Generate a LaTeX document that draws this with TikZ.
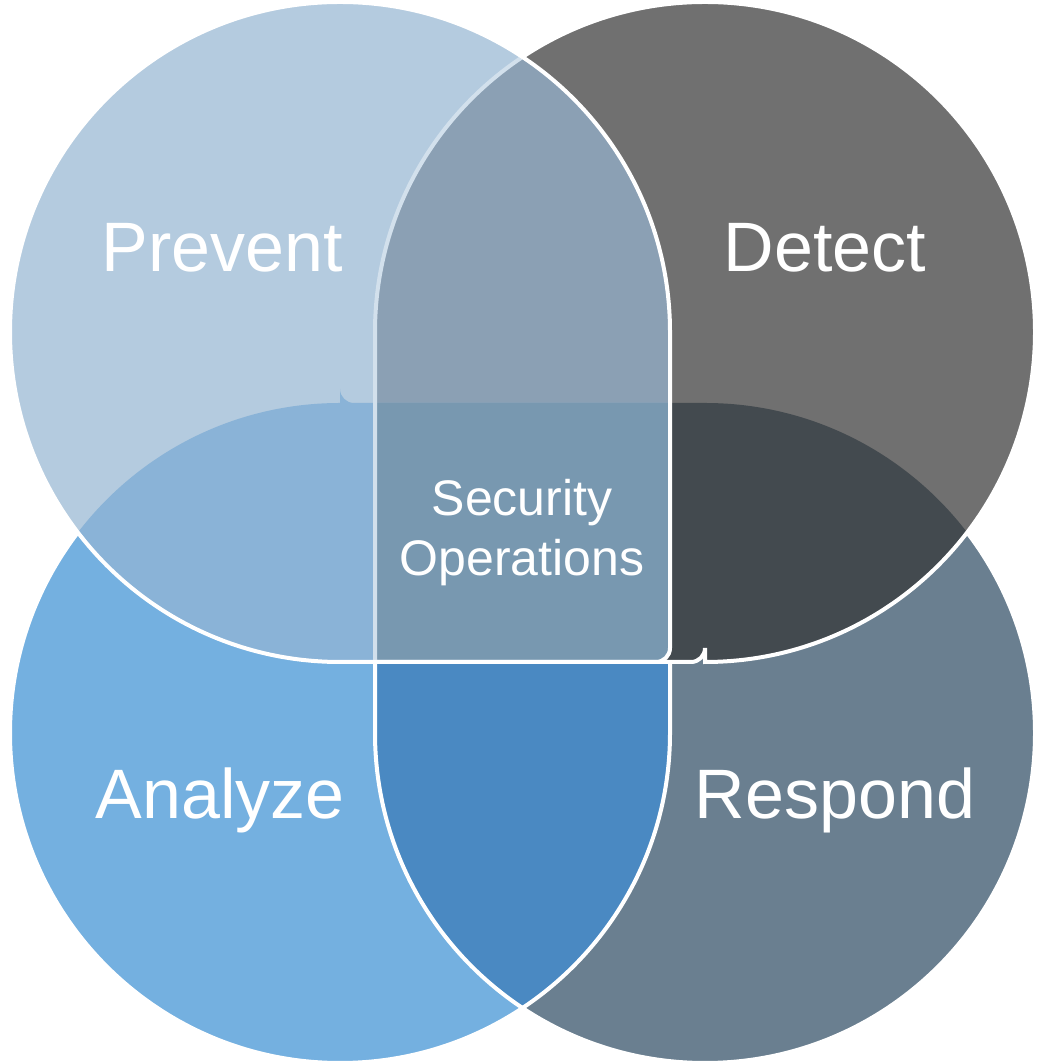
\documentclass[tikz,border=0pt]{standalone}
\usepackage{fontspec}
\setmainfont{Liberation Sans}
\definecolor{cP}{HTML}{B4CBDF}
\definecolor{cD}{HTML}{707070}
\definecolor{cA}{HTML}{74B0E0}
\definecolor{cR}{HTML}{6A7F90}
\definecolor{cPD}{HTML}{8BA0B4}
\definecolor{cPA}{HTML}{8AB3D7}
\definecolor{cAR}{HTML}{4A89C2}
\definecolor{cDR}{HTML}{434A4F}
\definecolor{cC}{HTML}{7898B0}
\tikzset{edge/.style={draw=white,line width=4pt},
 big/.style={text=white,font=\fontsize{70}{80}\selectfont},
 small/.style={text=white,font=\fontsize{50}{60}\selectfont,align=center}}
\def\pP{(340,402) [rounded corners=14]-- (670,402) [sharp corners]-- (670,732) arc[start angle=0,end angle=270,radius=330] -- cycle}
\def\pD{(375,732) [sharp corners]-- (375,402) [rounded corners=14]-- (705,402) [sharp corners]-- (705,402) arc[start angle=270,end angle=540,radius=330] -- cycle}
\def\pA{(670,331) [sharp corners]-- (670,661) [rounded corners=14]-- (340,661) [sharp corners]-- (340,661) arc[start angle=90,end angle=360,radius=330] -- cycle}
\def\pR{(705,661) [rounded corners=14]-- (375,661) [sharp corners]-- (375,331) arc[start angle=180,end angle=450,radius=330] -- cycle}
\begin{document}
\begin{tikzpicture}[x=1pt,y=1pt]
\useasboundingbox (0,0) rectangle (1046,1064);
% Analyze
\fill[cA] \pA;
\draw[edge] \pA;
% Respond
\fill[cR] \pR;
\begin{scope}\clip \pR; \fill[cAR] \pA; \end{scope}
\draw[edge] \pR;
\begin{scope}\clip \pR; \draw[edge] \pA; \end{scope}
% Detect
\fill[cD] \pD;
\begin{scope}\clip \pD; \fill[cDR] \pR; \end{scope}
\draw[edge] \pD;
% Prevent
\fill[cP] \pP;
\begin{scope}\clip \pP;
 \fill[cPD] \pD; \fill[cPA] \pA;
 \begin{scope}\clip \pD; \fill[cC] \pA; \end{scope}
 \draw[draw=cP!60!white,line width=4pt] \pD;
\end{scope}
\draw[edge] \pP;
\node[big] (prevent) at (222,816) {Prevent};
\node[big] (detect) at (825,816) {Detect};
\node[big] (analyze) at (220,264) {Analyze};
\node[big] (respond) at (835,264) {Respond};
\node[small] (secops) at (522,531) {Security\\Operations};
\end{tikzpicture}
\end{document}
